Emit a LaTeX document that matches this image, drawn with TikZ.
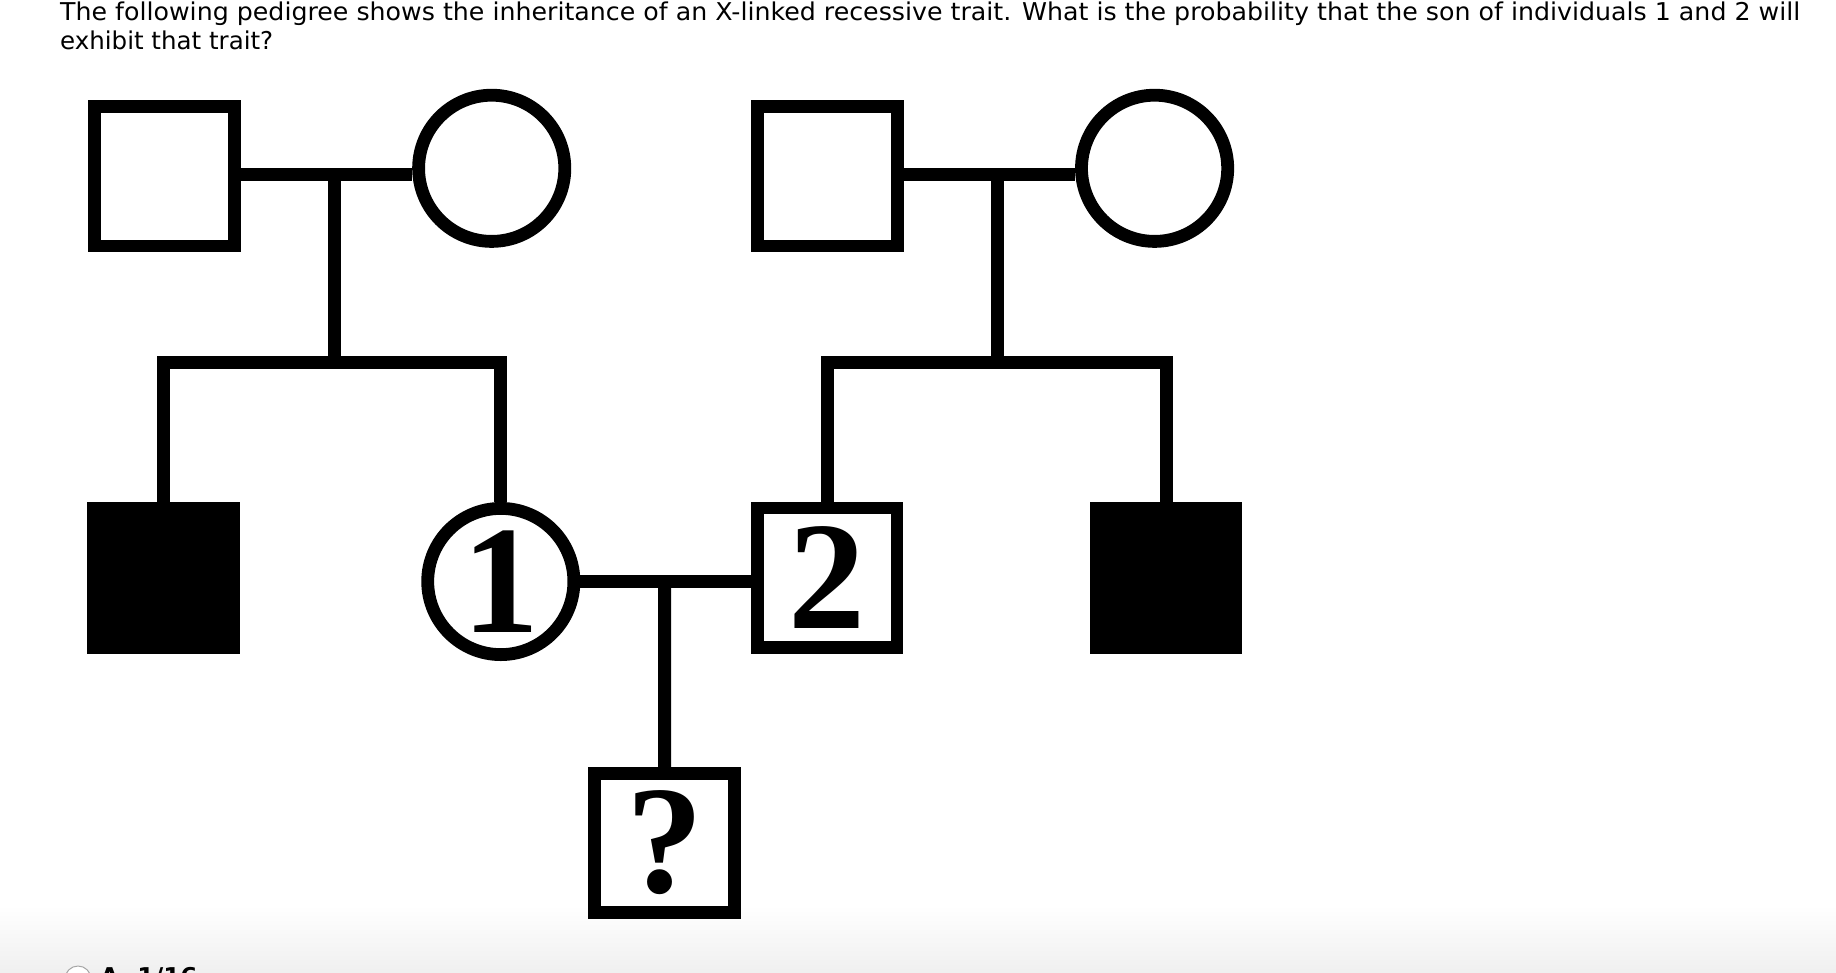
\documentclass[tikz,border=0pt]{standalone}
\usepackage{fontspec}
\usepackage{graphicx}
\setmainfont{DejaVu Sans}
\newfontfamily\numfont{Liberation Serif}
\begin{document}
\begin{tikzpicture}[x=1pt,y=-1pt,
  person/.style={draw=black, line width=12.8pt, inner sep=0pt, fill=white,
     font=\numfont\bfseries\fontsize{154}{154}\selectfont},
  male/.style={person, rectangle, minimum size=139.7pt},
  female/.style={person, circle, minimum size=146.2pt},
  affected/.style={fill=black},
  link/.style={draw=black, line width=13pt, line join=miter, line cap=butt},
  qtext/.style={anchor=base west, inner sep=0pt, font=\fontsize{24.5}{29}\selectfont}
]
\useasboundingbox (0,0) rectangle (1836,972);
\clip (0,0) rectangle (1836,972);
\fill[white] (0,0) rectangle (1836,972);
\shade[top color=white, bottom color=black!6] (0,905) rectangle (1836,972);

% question text
\node[qtext] (q1) at (60,20.7) {\resizebox{1740pt}{\height}{The following pedigree shows the inheritance of an X-linked recessive trait. What is the probability that the son of individuals 1 and 2 will}};
\node[qtext] (q2) at (60,49.3) {\resizebox{213pt}{\height}{exhibit that trait?}};

% joints
\coordinate (m1) at (334,174);
\coordinate (s1) at (334,362.7);
\coordinate (m2) at (997,174);
\coordinate (s2) at (997,362.7);
\coordinate (m3) at (664.5,581);

% persons
\node[male]   (gm1) at (164.5,176.2) {};
\node[female] (gf1) at (491.7,168.3) {};
\node[male]   (gm2) at (827.5,176.2) {};
\node[female] (gf2) at (1154.6,168.3) {};
\node[male, affected] (a1) at (163.5,577.8) {};
\node[female] (i1) at (500.8,581.5) {1};
\node[male]   (i2) at (827.2,577.8) {2};
\node[male, affected] (a2) at (1166,577.8) {};
\node[male]   (ch) at (664.7,843) {?};

% connectors
\draw[link] (gm1.east |- m1) -- (gf1.west |- m1);
\draw[link] (m1) -- (s1);
\draw[link] (a1.north) -- (a1.north |- s1) -- (i1.north |- s1) -- (i1.north);
\draw[link] (gm2.east |- m2) -- (gf2.west |- m2);
\draw[link] (m2) -- (s2);
\draw[link] (i2.north) -- (i2.north |- s2) -- (a2.north |- s2) -- (a2.north);
\draw[link] (i1.east |- m3) -- (i2.west |- m3);
\draw[link] (m3) -- (ch.north);

% answer choice (cut off at the bottom edge, as in the page)
\node[draw=black!35, fill=white, circle, minimum size=26pt, inner sep=0pt, line width=1pt] (radio) at (78,979) {};
\node[qtext, font=\bfseries\fontsize{24.5}{29}\selectfont] (ans) at (100,985.5) {A. 1/16};
\end{tikzpicture}
\end{document}
